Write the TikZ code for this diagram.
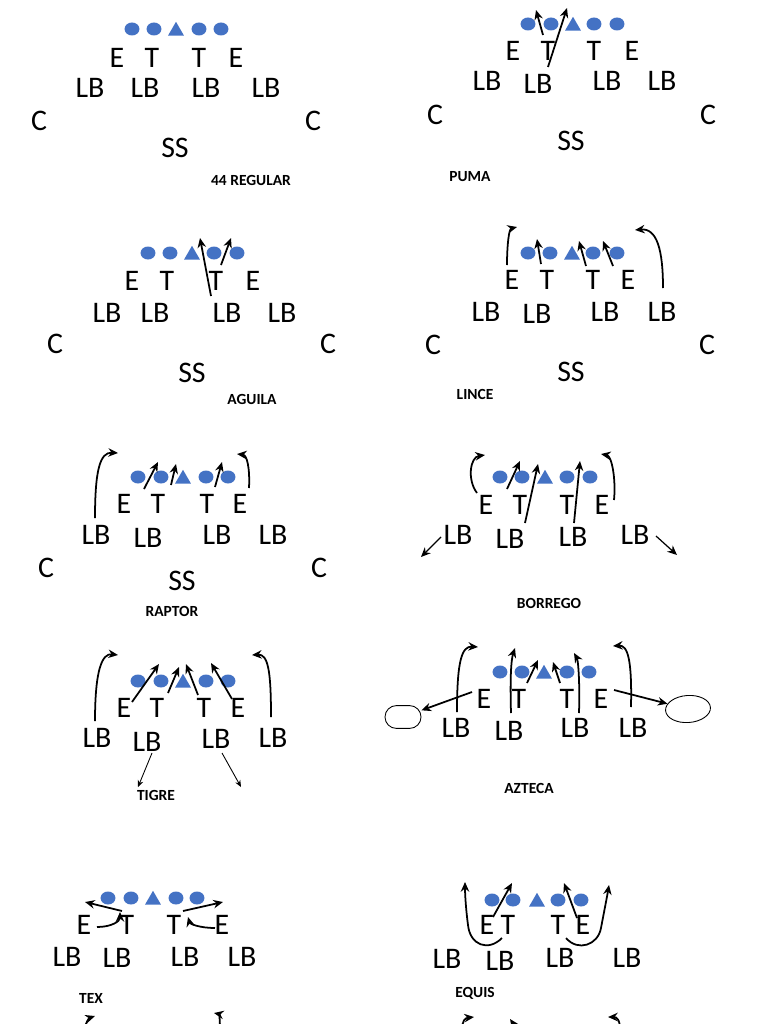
\documentclass[tikz,border=0pt]{standalone}
\usepackage{fontspec}
\setmainfont{Carlito}
\usetikzlibrary{arrows.meta,shapes.geometric}
\definecolor{dotblue}{HTML}{4472C4}

\begin{document}
\begin{tikzpicture}[x=0.02cm,y=-0.02cm,
	pl/.style={font=\fontsize{17}{18}\selectfont,inner sep=1pt},
	dot/.style={ellipse,fill=dotblue,minimum width=8.5pt,minimum height=7.4pt,inner sep=0pt},
	tri/.style={regular polygon,regular polygon sides=3,fill=dotblue,minimum size=10.5pt,inner sep=0pt},
	tag/.style={font=\bfseries\fontsize{8.8}{10}\selectfont},
	mv/.style={-{Stealth[length=5.5pt,width=4.8pt]},line width=1pt},
	drift/.style={-{Stealth[length=3.8pt,width=3.2pt]},line width=0.5pt},
	zone/.style={draw,line width=0.5pt,inner sep=0pt}]
	\useasboundingbox (0,0) rectangle (768,1024);
	\clip (0,0) rectangle (768,1024);
	
	% 44 REGULAR
	\foreach \x/\n in {132/1,154/2,199/4,221/5} \node[dot] (r1d\n) at (\x,29) {};
	\node[tri] (r1d3) at (176,31) {};
	\foreach \x/\t/\n in {117/E/e1,152/T/t1,199/T/t2,236/E/e2} \node[pl] (r1\n) at (\x,58) {\t};
	\foreach \x/\y/\n in {90/88/1,145/88/2,206/88/3,266/88/4} \node[pl] (r1lb\n) at (\x,\y) {LB};
	\node[pl] (r1c1) at (39,121) {C};
	\node[pl] (r1c2) at (313,121) {C};
	\node[pl] (r1ss) at (175,148) {SS};
	\node[tag] (r1name) at (251,180) {44 REGULAR};
	
	% PUMA
	\foreach \x/\n in {528/1,551/2,594/4,617/5} \node[dot] (r2d\n) at (\x,24) {};
	\node[tri] (r2d3) at (573,26) {};
	\foreach \x/\t/\n in {513/E/e1,548/T/t1,594/T/t2,632/E/e2} \node[pl] (r2\n) at (\x,51) {\t};
	\foreach \x/\y/\n in {487/81/1,538/84/2,607/81/3,662/81/4} \node[pl] (r2lb\n) at (\x,\y) {LB};
	\node[pl] (r2c1) at (435,115) {C};
	\node[pl] (r2c2) at (708,115) {C};
	\node[pl] (r2ss) at (571,141) {SS};
	\node[tag] (r2name) at (470,177) {PUMA};
	\coordinate (r2a1) at (543,35); \coordinate (r2a2) at (536,10);
	\coordinate (r2b1) at (548,67); \coordinate (r2b2) at (567,8);
	\draw[mv] (r2a1) -- (r2a2);
	\draw[mv] (r2b1) -- (r2b2);
	
	% AGUILA
	\foreach \x/\n in {148/1,170/2,214/4,237/5} \node[dot] (r3d\n) at (\x,253) {};
	\node[tri] (r3d3) at (192,255) {};
	\foreach \x/\t/\n in {132/E/e1,167/T/t1,216/T/t2,253/E/e2} \node[pl] (r3\n) at (\x,281) {\t};
	\foreach \x/\y/\n in {107/313/1,155/313/2,227/313/3,282/313/4} \node[pl] (r3lb\n) at (\x,\y) {LB};
	\node[pl] (r3c1) at (55,344) {C};
	\node[pl] (r3c2) at (328,344) {C};
	\node[pl] (r3ss) at (192,373) {SS};
	\node[tag] (r3name) at (252,399) {AGUILA};
	\coordinate (r3a1) at (211,296); \coordinate (r3a2) at (200,238);
	\coordinate (r3b1) at (221,265); \coordinate (r3b2) at (231,238);
	\draw[mv] (r3a1) -- (r3a2);
	\draw[mv] (r3b1) -- (r3b2);
	
	% LINCE
	\foreach \x/\n in {528/1,550/2,593/4,617/5} \node[dot] (r4d\n) at (\x,253) {};
	\node[tri] (r4d3) at (572,255) {};
	\foreach \x/\t/\n in {512/E/e1,547/T/t1,593/T/t2,628/E/e2} \node[pl] (r4\n) at (\x,280) {\t};
	\foreach \x/\y/\n in {486/312/1,537/314/2,605/312/3,662/312/4} \node[pl] (r4lb\n) at (\x,\y) {LB};
	\node[pl] (r4c1) at (433,345) {C};
	\node[pl] (r4c2) at (707,345) {C};
	\node[pl] (r4ss) at (571,372) {SS};
	\node[tag] (r4name) at (475,394) {LINCE};
	\coordinate (r4a1) at (507,265); \coordinate (r4a2) at (517,227);
	\coordinate (r4b1) at (541,264); \coordinate (r4b2) at (537,239);
	\coordinate (r4c1) at (586,266); \coordinate (r4c2) at (579,241);
	\coordinate (r4e1) at (613,266); \coordinate (r4e2) at (603,241);
	\coordinate (r4f1) at (663,288); \coordinate (r4f2) at (635,230);
	\draw[mv] (r4a1) .. controls (507,245) and (509,229) .. (r4a2);
	\draw[mv] (r4b1) -- (r4b2);
	\draw[mv] (r4c1) -- (r4c2);
	\draw[mv] (r4e1) -- (r4e2);
	\draw[mv] (r4f1) .. controls (663,250) and (657,228) .. (r4f2);
	
	% RAPTOR
	\foreach \x/\n in {138/1,161/2,206/4,228/5} \node[dot] (r5d\n) at (\x,477) {};
	\node[tri] (r5d3) at (183,479) {};
	\foreach \x/\t/\n in {124/E/e1,158/T/t1,207/T/t2,240/E/e2} \node[pl] (r5\n) at (\x,504) {\t};
	\foreach \x/\y/\n in {96/535/1,148/538/2,217/535/3,273/535/4} \node[pl] (r5lb\n) at (\x,\y) {LB};
	\node[pl] (r5c1) at (46,568) {C};
	\node[pl] (r5c2) at (319,568) {C};
	\node[pl] (r5ss) at (182,581) {SS};
	\node[tag] (r5name) at (172,611) {RAPTOR};
	\coordinate (r5a1) at (95,518); \coordinate (r5a2) at (118,453);
	\coordinate (r5b1) at (144,489); \coordinate (r5b2) at (158,462);
	\coordinate (r5c1) at (171,485); \coordinate (r5c2) at (176,464);
	\coordinate (r5e1) at (215,487); \coordinate (r5e2) at (222,462);
	\coordinate (r5f1) at (249,488); \coordinate (r5f2) at (237,454);
	\draw[mv] (r5a1) .. controls (95,470) and (100,452) .. (r5a2);
	\draw[mv] (r5b1) -- (r5b2);
	\draw[mv] (r5c1) -- (r5c2);
	\draw[mv] (r5e1) -- (r5e2);
	\draw[mv] (r5f1) .. controls (250,468) and (247,455) .. (r5f2);
	
	% BORREGO
	\foreach \x/\n in {500/1,522/2,567/4,590/5} \node[dot] (r6d\n) at (\x,477) {};
	\node[tri] (r6d3) at (545,479) {};
	\foreach \x/\t/\n in {486/E/e1,520/T/t1,567/T/t2,602/E/e2} \node[pl] (r6\n) at (\x,505) {\t};
	\foreach \x/\y/\n in {458/535/1,510/539/2,573/537/3,635/535/4} \node[pl] (r6lb\n) at (\x,\y) {LB};
	\node[tag] (r6name) at (549,603) {BORREGO};
	\coordinate (r6a1) at (477,493); \coordinate (r6a2) at (485,455);
	\coordinate (r6b1) at (507,489); \coordinate (r6b2) at (520,461);
	\coordinate (r6c1) at (525,523); \coordinate (r6c2) at (538,464);
	\coordinate (r6e1) at (574,523); \coordinate (r6e2) at (580,461);
	\coordinate (r6f1) at (614,500); \coordinate (r6f2) at (601,454);
	\coordinate (r6g1) at (441,537); \coordinate (r6g2) at (421,557);
	\coordinate (r6h1) at (656,536); \coordinate (r6h2) at (677,555);
	\draw[mv] (r6a1) .. controls (467,480) and (470,457) .. (r6a2);
	\draw[mv] (r6b1) -- (r6b2);
	\draw[mv] (r6c1) -- (r6c2);
	\draw[mv] (r6e1) -- (r6e2);
	\draw[mv] (r6f1) .. controls (616,480) and (612,456) .. (r6f2);
	\draw[mv,line width=0.7pt] (r6g1) -- (r6g2);
	\draw[mv,line width=0.7pt] (r6h1) -- (r6h2);
	
	% TIGRE
	\foreach \x/\n in {138/1,161/2,206/4,228/5} \node[dot] (r7d\n) at (\x,681) {};
	\node[tri] (r7d3) at (183,683) {};
	\foreach \x/\t/\n in {124/E/e1,157/T/t1,204/T/t2,238/E/e2} \node[pl] (r7\n) at (\x,708) {\t};
	\foreach \x/\y/\n in {97/738/1,147/742/2,216/739/3,273/738/4} \node[pl] (r7lb\n) at (\x,\y) {LB};
	\node[tag] (r7name) at (156,795) {TIGRE};
	\coordinate (r7a1) at (95,721); \coordinate (r7a2) at (118,655);
	\coordinate (r7b1) at (132,702); \coordinate (r7b2) at (159,664);
	\coordinate (r7c1) at (168,693); \coordinate (r7c2) at (179,667);
	\coordinate (r7e1) at (198,695); \coordinate (r7e2) at (186,664);
	\coordinate (r7f1) at (232,699); \coordinate (r7f2) at (211,663);
	\coordinate (r7g1) at (271,717); \coordinate (r7g2) at (252,655);
	\coordinate (r7h1) at (152,753); \coordinate (r7h2) at (138,787);
	\coordinate (r7k1) at (222,753); \coordinate (r7k2) at (241,787);
	\draw[mv] (r7a1) .. controls (95,670) and (102,653) .. (r7a2);
	\draw[mv] (r7b1) -- (r7b2);
	\draw[mv] (r7c1) -- (r7c2);
	\draw[mv] (r7e1) -- (r7e2);
	\draw[mv] (r7f1) -- (r7f2);
	\draw[mv] (r7g1) .. controls (271,670) and (268,654) .. (r7g2);
	\draw[drift] (r7h1) -- (r7h2);
	\draw[drift] (r7k1) -- (r7k2);
	
	% AZTECA
	\foreach \x/\n in {500/1,522/2,567/4,589/5} \node[dot] (r8d\n) at (\x,672) {};
	\node[tri] (r8d3) at (544,674) {};
	\foreach \x/\t/\n in {484/E/e1,519/T/t1,567/T/t2,601/E/e2} \node[pl] (r8\n) at (\x,699) {\t};
	\foreach \x/\y/\n in {456/728/1,509/731/2,575/728/3,633/728/4} \node[pl] (r8lb\n) at (\x,\y) {LB};
	\node[tag] (r8name) at (529,788) {AZTECA};
	\node[zone,rounded corners=6.5pt,minimum width=20.5pt,minimum height=13pt] (r8z1) at (403,717) {};
	\node[zone,ellipse,minimum width=25.6pt,minimum height=15.4pt,rotate=4] (r8z2) at (688,709) {};
	\coordinate (r8a1) at (457,712); \coordinate (r8a2) at (478,647);
	\coordinate (r8b1) at (511,713); \coordinate (r8b2) at (515,648);
	\coordinate (r8c1) at (527,683); \coordinate (r8c2) at (538,660);
	\coordinate (r8e1) at (560,683); \coordinate (r8e2) at (553,662);
	\coordinate (r8f1) at (579,713); \coordinate (r8f2) at (574,653);
	\coordinate (r8g1) at (631,707); \coordinate (r8g2) at (613,646);
	\coordinate (r8h1) at (472,692);
	\coordinate (r8k1) at (614,690);
	\draw[mv] (r8a1) .. controls (457,660) and (462,646) .. (r8a2);
	\draw[mv] (r8b1) .. controls (510,680) and (511,660) .. (r8b2);
	\draw[mv] (r8c1) -- (r8c2);
	\draw[mv] (r8e1) -- (r8e2);
	\draw[mv] (r8f1) .. controls (580,680) and (578,660) .. (r8f2);
	\draw[mv] (r8g1) .. controls (632,660) and (628,645) .. (r8g2);
	\draw[mv] (r8h1) -- (r8z1);
	\draw[mv] (r8k1) -- (r8z2);
	
	% TEX
	\foreach \x/\n in {108/1,131/2,176/4,197/5} \node[dot] (r9d\n) at (\x,898) {};
	\node[tri] (r9d3) at (153,900) {};
	\foreach \x/\t/\n in {84/E/e1,127/T/t1,174/T/t2,222/E/e2} \node[pl] (r9\n) at (\x,925) {\t};
	\foreach \x/\y/\n in {67/957/1,117/958/2,185/957/3,242/957/4} \node[pl] (r9lb\n) at (\x,\y) {LB};
	\node[tag] (r9name) at (91,998) {TEX};
	\coordinate (r9a1) at (97,927); \coordinate (r9a2) at (120,912);
	\coordinate (r9b1) at (122,911); \coordinate (r9b2) at (85,902);
	\coordinate (r9c1) at (215,928); \coordinate (r9c2) at (188,917);
	\coordinate (r9e1) at (183,911); \coordinate (r9e2) at (223,902);
	\coordinate (r9f1) at (84,1030); \coordinate (r9f2) at (95,1016);
	\coordinate (r9g1) at (220,1030); \coordinate (r9g2) at (214,1013);
	\draw[mv] (r9a1) .. controls (112,927) and (120,921) .. (r9a2);
	\draw[mv] (r9b1) -- (r9b2);
	\draw[mv] (r9c1) .. controls (200,928) and (190,924) .. (r9c2);
	\draw[mv] (r9e1) -- (r9e2);
	\draw[mv] (r9f1) .. controls (86,1022) and (89,1018) .. (r9f2);
	\draw[mv] (r9g1) .. controls (220,1020) and (219,1014) .. (r9g2);
	
	% EQUIS
	\foreach \x/\n in {492/1,513/2,558/4,581/5} \node[dot] (r10d\n) at (\x,900) {};
	\node[tri] (r10d3) at (537,902) {};
	\foreach \x/\t/\n in {487/E/e1,508/T/t1,558/T/t2,583/E/e2} \node[pl] (r10\n) at (\x,925) {\t};
	\foreach \x/\y/\n in {447/959/1,500/961/2,560/958/3,627/958/4} \node[pl] (r10lb\n) at (\x,\y) {LB};
	\node[tag] (r10name) at (475,993) {EQUIS};
	\coordinate (r10a1) at (502,938); \coordinate (r10a2) at (465,882);
	\coordinate (r10b1) at (493,917); \coordinate (r10b2) at (512,883);
	\coordinate (r10c1) at (577,918); \coordinate (r10c2) at (564,883);
	\coordinate (r10e1) at (566,938); \coordinate (r10e2) at (609,885);
	\coordinate (r10f1) at (462,1030); \coordinate (r10f2) at (474,1017);
	\coordinate (r10g1) at (519,1032); \coordinate (r10g2) at (510,1019);
	\coordinate (r10h1) at (620,1030); \coordinate (r10h2) at (608,1017);
	\draw[mv] (r10a1) .. controls (488,952) and (470,945) .. (468,925) .. controls (466,910) and (465,895) .. (r10a2);
	\draw[mv] (r10b1) -- (r10b2);
	\draw[mv] (r10c1) -- (r10c2);
	\draw[mv] (r10e1) .. controls (578,952) and (598,945) .. (601,928) .. controls (604,912) and (607,897) .. (r10e2);
	\draw[mv] (r10f1) .. controls (462,1021) and (465,1018) .. (r10f2);
	\draw[mv] (r10g1) -- (r10g2);
	\draw[mv] (r10h1) .. controls (620,1020) and (617,1017) .. (r10h2);
\end{tikzpicture}
\end{document}
